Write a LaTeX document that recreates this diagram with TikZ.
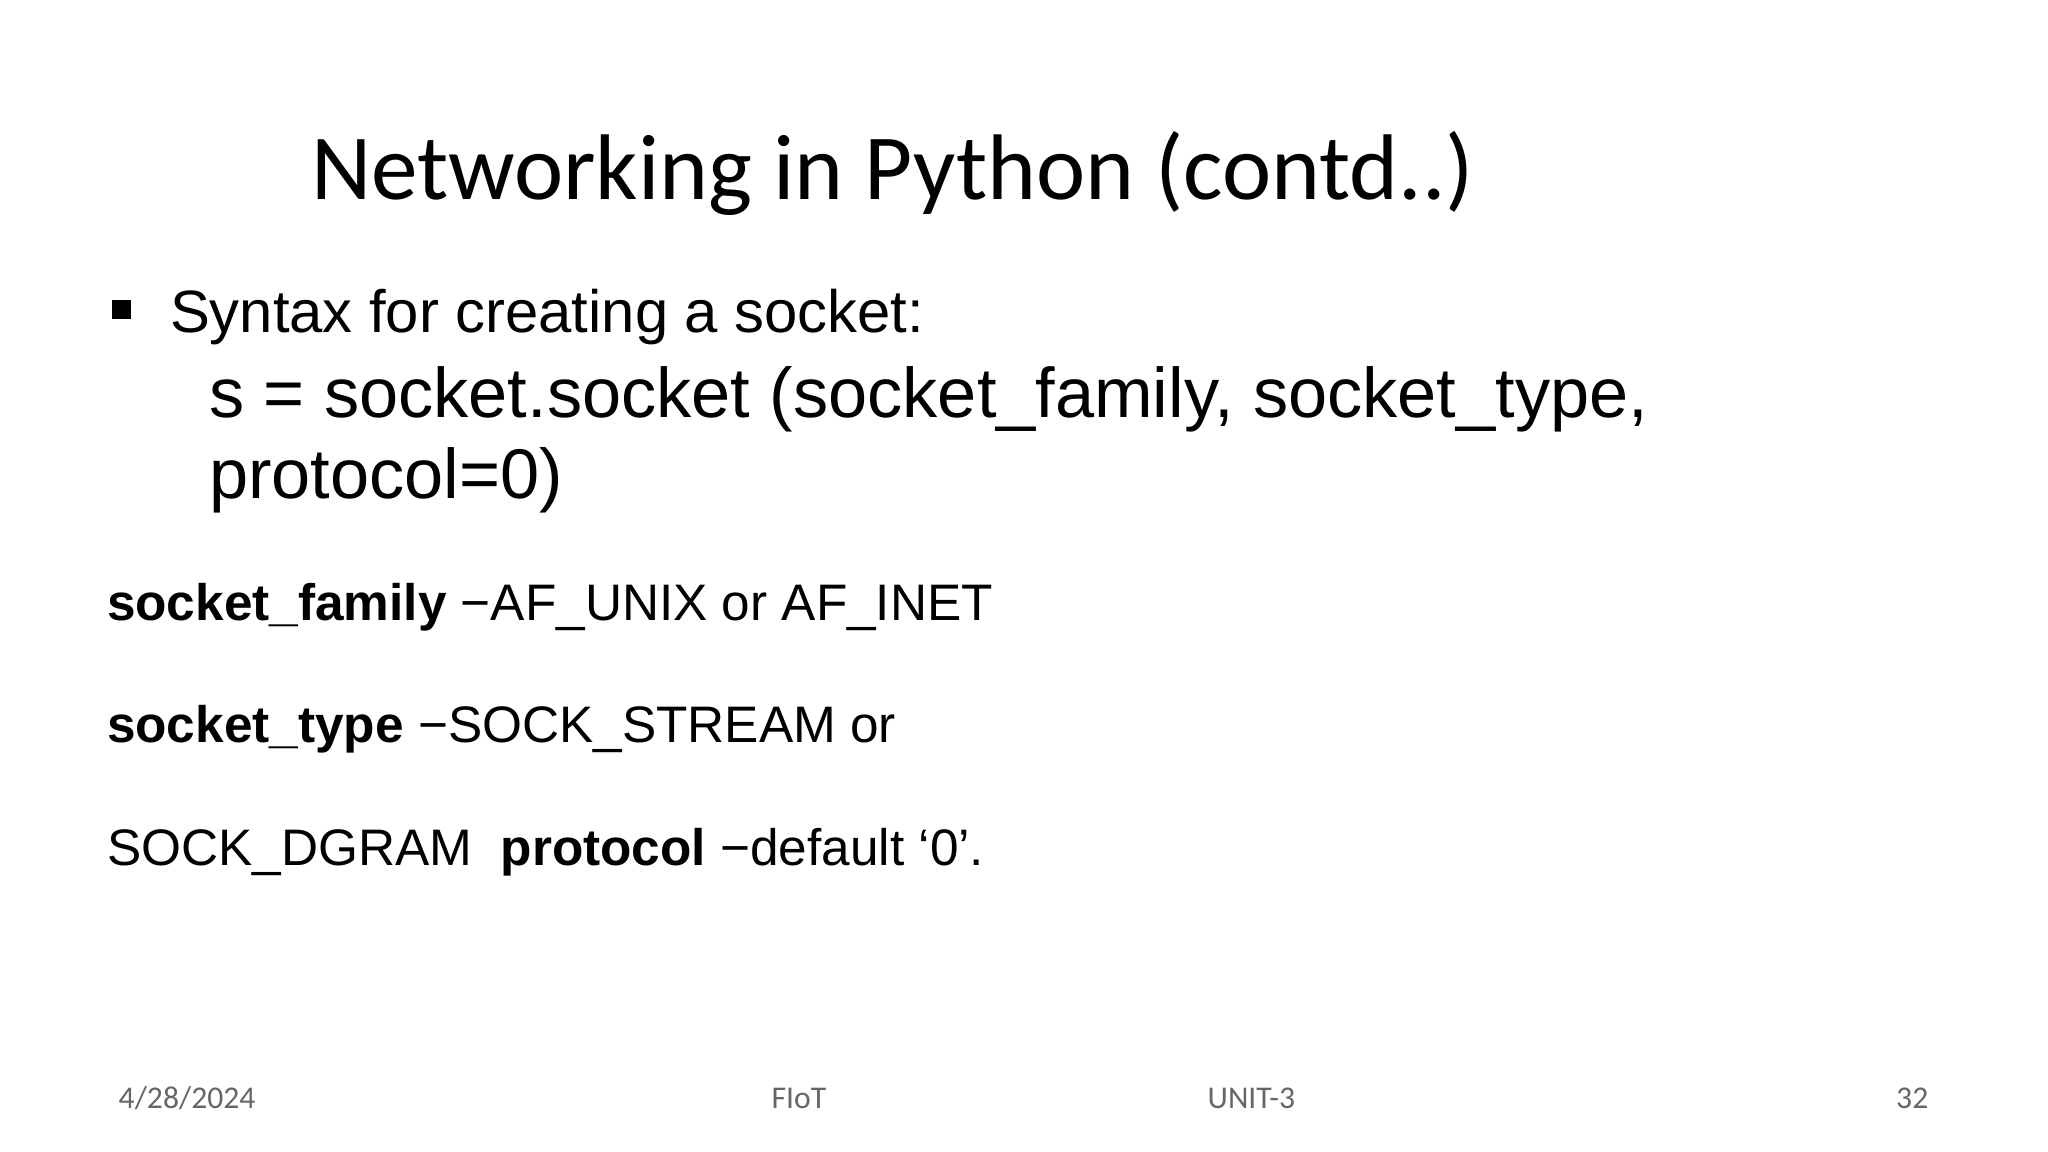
\documentclass[tikz,border=0pt]{standalone}
\usepackage{fontspec}
\setmainfont{Liberation Sans}
\newfontfamily\calibri{Carlito}
\begin{document}
\begin{tikzpicture}[x=0.01cm,y=-0.01cm,
  txt/.style={anchor=base west,inner sep=0pt,outer sep=0pt},
  foot/.style={anchor=base,inner sep=0pt,font=\calibri\fontsize{9}{11}\selectfont,text=black!60}]
\useasboundingbox (0,0) rectangle (2048,1152);
\node[txt,font=\calibri\fontsize{26.5}{32}\selectfont] (title) at (311,200) {Networking in Python (contd..)};
\fill (112,300) rectangle (131,319);
\node[txt,font=\fontsize{17}{20}\selectfont] (b1) at (170,333) {Syntax for creating a socket:};
\node[txt,font=\fontsize{20}{24}\selectfont] (c1) at (209,418) {s = socket.socket (socket\_family, socket\_type,};
\node[txt,font=\fontsize{20}{24}\selectfont] (c2) at (209,499) {protocol=0)};
\node[txt,font=\fontsize{14.6}{18}\selectfont] (l1) at (107,620) {\textbf{socket\_family} −AF\_UNIX or AF\_INET};
\node[txt,font=\fontsize{14.6}{18}\selectfont] (l2) at (107,742) {\textbf{socket\_type} −SOCK\_STREAM or};
\node[txt,font=\fontsize{14.6}{18}\selectfont] (l3) at (107,865) {SOCK\_DGRAM\ \ \textbf{protocol} −default ‘0’.};
\node[foot,anchor=base west] (f1) at (118,1108) {4/28/2024};
\node[foot,anchor=base west] (f2) at (771,1108) {FIoT};
\node[foot,anchor=base west] (f3) at (1207,1108) {UNIT-3};
\node[foot,anchor=base east] (f4) at (1929,1108) {32};
\end{tikzpicture}
\end{document}
